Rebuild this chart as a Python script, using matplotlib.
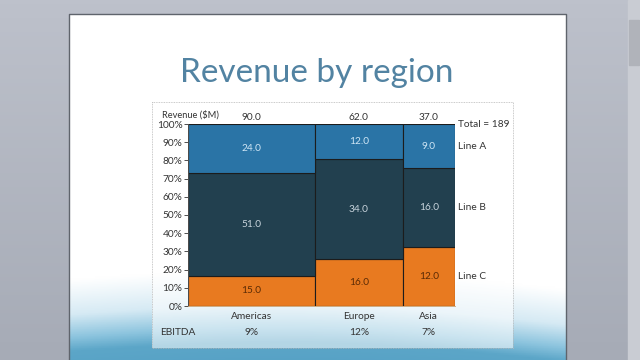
import numpy as np
import matplotlib
matplotlib.use("Agg")
import matplotlib.pyplot as plt
from matplotlib.transforms import blended_transform_factory

# ---- data ----
regions = ["Americas", "Europe", "Asia"]
revenue = [90.0, 62.0, 37.0]
line_a = [24.0, 12.0, 9.0]
line_b = [51.0, 34.0, 16.0]
line_c = [15.0, 16.0, 12.0]
ebitda = ["9%", "12%", "7%"]
series_names = ["Line C", "Line B", "Line A"]
yticks = [0, 10, 20, 30, 40, 50, 60, 70, 80, 90, 100]

plt.rcParams['font.family'] = ['Lato', 'DejaVu Sans']

fig = plt.figure(figsize=(6.4, 3.6), dpi=100)

# ---- background (window + slide) ----
bg = fig.add_axes([0, 0, 1, 1])
bg.set_xlim(0, 640)
bg.set_ylim(360, 0)
bg.axis('off')
grad = np.linspace(0, 1, 100)[:, None]
win = np.zeros((100, 1, 3))
top = np.array([0xbd, 0xc1, 0xcb]) / 255
bot = np.array([0xa6, 0xab, 0xb6]) / 255
win[:, 0, :] = top * (1 - grad) + bot * grad
bg.imshow(win, extent=[0, 640, 360, 0], aspect='auto', zorder=0)
# scrollbar
bg.add_patch(plt.Rectangle((628, 0), 12, 360, color='#c9ccd3', zorder=1))
bg.add_patch(plt.Rectangle((629, 20), 10, 45, color='#b0b3ba', zorder=1))

# slide with bluish wave at the bottom
sx0, sx1, sy0, sy1 = 69, 566, 14, 360
H, W = 200, 200
yy = np.linspace(sy0, sy1, H)[:, None]
xx = np.linspace(0, 1, W)[None, :]
yeff = yy + 14 * np.sin(np.pi * xx) - 10 * xx
stops_y = [0, 280, 315, 338, 352, 400]
stops_c = np.array([[255, 255, 255], [255, 255, 255], [214, 234, 244],
                     [140, 196, 222], [92, 166, 200], [80, 156, 194]]) / 255
img = np.zeros((H, W, 3))
for c in range(3):
    img[:, :, c] = np.interp(yeff, stops_y, stops_c[:, c])
bg.imshow(img, extent=[sx0, sx1, sy1, sy0], aspect='auto', zorder=2)
bg.plot([sx0, sx0, sx1, sx1], [sy1, sy0, sy0, sy1], color='#5f646c', lw=1.0,
        zorder=3)
# dotted chart frame
bg.add_patch(plt.Rectangle((152, 102), 361, 246, facecolor='white',
                           edgecolor='none', alpha=0.55, zorder=4))
bg.add_patch(plt.Rectangle((152, 102), 361, 246, fill=False,
                           edgecolor='#b8b8b8', lw=0.6, ls=(0, (1, 1)),
                           zorder=4))
bg.text(317, 73, "Revenue by region", ha='center', va='center',
        fontsize=24, color='#5283a2', fontweight='normal', zorder=5)

# ---- mekko chart ----
ax = fig.add_axes([188 / 640, 54 / 360, 267 / 640, 182 / 360])
ax.set_zorder(5)
ax.patch.set_alpha(0)
total = sum(revenue)
lefts = np.concatenate([[0], np.cumsum(revenue)[:-1]])
centers = lefts + np.array(revenue) / 2
colors = {"Line A": "#2a74a6", "Line B": "#22404f", "Line C": "#e87a20"}
txtcol = {"Line A": "#cfe6f5", "Line B": "#c8d4dc", "Line C": "#5b2b05"}
vals = {"Line A": line_a, "Line B": line_b, "Line C": line_c}
fs = 7.3

bottoms = np.zeros(len(regions))
mids_last = {}
for name in series_names:
    v = np.array(vals[name])
    pct = v / np.array(revenue) * 100
    ax.bar(lefts, pct, width=revenue, bottom=bottoms, align='edge',
           color=colors[name], edgecolor='#1c1c1c', lw=0.8)
    for i in range(len(regions)):
        ax.text(centers[i], bottoms[i] + pct[i] / 2, f"{v[i]:.1f}",
                ha='center', va='center', fontsize=fs, color=txtcol[name])
    mids_last[name] = bottoms[-1] + pct[-1] / 2
    bottoms = bottoms + pct

ax.set_xlim(0, total)
ax.set_ylim(0, 100)
ax.set_yticks(yticks)
ax.set_yticklabels([f"{y}%" for y in yticks])
ax.tick_params(axis='y', labelsize=fs, colors='#333333', length=3, width=0.6, pad=1)
ax.set_xticks(centers)
ax.set_xticklabels(regions)
ax.tick_params(axis='x', labelsize=fs, colors='#333333', length=0, pad=4)
for s in ['top', 'right']:
    ax.spines[s].set_visible(False)
ax.spines['left'].set_color('#555555')
ax.spines['left'].set_linewidth(0.6)
ax.spines['bottom'].set_color('#c8a070')
ax.spines['bottom'].set_linewidth(0.6)

trans = blended_transform_factory(ax.transData, ax.transAxes)
for i in range(len(regions)):
    ax.text(centers[i], 1.038, f"{revenue[i]:.1f}", transform=trans,
            ha='center', va='center', fontsize=fs, color='#333333')
    ax.text(centers[i], -0.148, ebitda[i], transform=trans,
            ha='center', va='center', fontsize=fs, color='#333333')
ax.text(-0.098, 1.05, "Revenue ($M)", transform=ax.transAxes, ha='left',
        va='center', fontsize=6.7, color='#333333')
ax.text(-0.105, -0.148, "EBITDA", transform=ax.transAxes, ha='left',
        va='center', fontsize=fs, color='#333333')
ax.text(1.011, 0.995, f"Total = {total:.0f}", transform=ax.transAxes,
        ha='left', va='center', fontsize=fs, color='#333333')
for name in series_names:
    ax.text(1.011, mids_last[name] / 100, name, transform=ax.transAxes,
            ha='left', va='center', fontsize=fs, color='#333333')

fig.savefig("out.png", dpi=100)
